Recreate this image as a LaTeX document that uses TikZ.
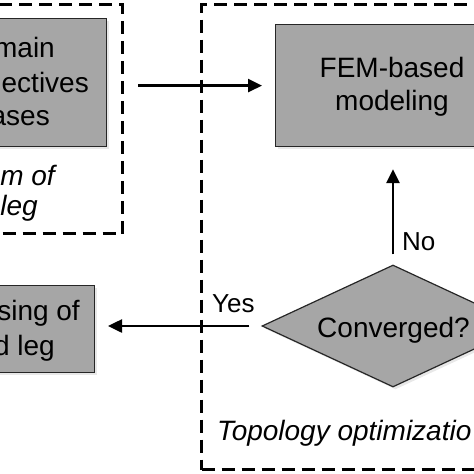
\documentclass[tikz,border=0pt]{standalone}
\usepackage{fontspec}
\setmainfont{Liberation Sans}
\usetikzlibrary{arrows.meta,shapes.geometric,shadows}
\definecolor{boxgray}{RGB}{166,166,166}
\begin{document}
\begin{tikzpicture}[x=1pt,y=-1pt,
  greybox/.style={draw=black!85, line width=1.2pt, fill=boxgray, inner sep=0pt,
    drop shadow={shadow xshift=2.5pt,shadow yshift=-2.5pt,fill=black!18}},
  frame/.style={draw, line width=3pt, dash pattern=on 13pt off 7pt, inner sep=0pt},
  arr/.style={line width=2.5pt, -{Triangle[length=14pt,width=13pt]}},
  lbl/.style={font=\fontsize{28}{34}\selectfont, inner sep=0pt},
  ilbl/.style={font=\fontsize{28}{34}\selectfont\itshape, inner sep=0pt},
  slbl/.style={font=\fontsize{26}{32}\selectfont, inner sep=0pt}]
\useasboundingbox (0,0) rectangle (474,474);
\clip (0,0) rectangle (474,474);
% frames
\node[frame, minimum width=320, minimum height=229, anchor=north east] (leftframe) at (124,3) {};
\node[frame, minimum width=420, minimum height=465, anchor=north west] (rightframe) at (200,3) {};
% boxes
\node[greybox, minimum width=240, minimum height=128, anchor=north east] (objbox) at (107,18) {};
\node[greybox, minimum width=236, minimum height=122, anchor=north west] (fem) at (275,24) {};
\node[greybox, minimum width=220, minimum height=87, anchor=north east] (post) at (95,285) {};
\node[greybox, diamond, minimum width=262, minimum height=122] (conv) at (393,326) {};
% texts
\node[lbl, anchor=base east] (t1) at (55,57) {main};
\node[lbl, anchor=base east] (t2) at (89,92) {ectives};
\node[lbl, anchor=base east] (t3) at (50,125) {ases};
\node[ilbl, anchor=base east] (t4) at (55,185) {m of};
\node[ilbl, anchor=base east] (t5) at (38,215) {leg};
\node[lbl, anchor=base] (t6) at (392,77) {FEM-based};
\node[lbl, anchor=base] (t7) at (392,110) {modeling};
\node[lbl, anchor=base] (t8) at (393.5,337) {Converged?};
\node[lbl, anchor=base east] (t9) at (80,320) {sing of};
\node[lbl, anchor=base east] (t10) at (55,355) {d leg};
\node[ilbl, anchor=base west] (t11) at (217,440) {Topology optimizatio};
\node[slbl, anchor=base west] (yes) at (212,312) {Yes};
\node[slbl, anchor=base west] (no) at (402,250) {No};
% connectors
\draw[arr, shorten <=14pt, shorten >=13pt] (leftframe.east |- fem.west) -- (fem.west);
\draw[arr, shorten <=10pt, shorten >=22pt] (conv.north) -- (fem.south -| conv.north);
\draw[arr, shorten <=12pt, shorten >=13pt] (conv.west) -- (post.east |- conv.west);
\end{tikzpicture}
\end{document}
